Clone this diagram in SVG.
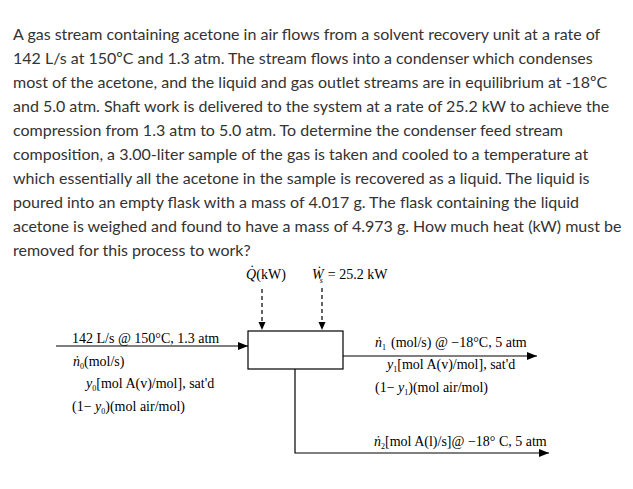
<svg xmlns="http://www.w3.org/2000/svg" width="633" height="489" viewBox="0 0 633 489">
<style>
.p{font-family:Lato,"Open Sans","Liberation Sans",sans-serif;font-size:16px;fill:#333}
.d{font-family:"Liberation Serif","Times New Roman",serif;font-size:14px;fill:#000}
.i{font-style:italic}
.s{font-size:8px}
.ln{stroke:#000;stroke-width:1.2;fill:none}
.ds{stroke:#000;stroke-width:1.2;fill:none;stroke-dasharray:4,3}
</style>
<defs>
<marker id="ah" markerWidth="10" markerHeight="8" refX="10" refY="4" orient="auto" markerUnits="userSpaceOnUse"><path d="M0,0 L10,4 L0,8 Z" fill="#000"/></marker>
<marker id="ahs" markerWidth="8" markerHeight="8" refX="8" refY="4" orient="auto" markerUnits="userSpaceOnUse"><path d="M0,0.5 L8,4 L0,7.5 Z" fill="#000"/></marker>
</defs>
<g id="problem">
<text class="p" x="13" y="40">A gas stream containing acetone in air flows from a solvent recovery unit at a rate of</text>
<text class="p" x="13" y="64">142 L/s at 150ºC and 1.3 atm. The stream flows into a condenser which condenses</text>
<text class="p" x="13" y="88">most of the acetone, and the liquid and gas outlet streams are in equilibrium at -18ºC</text>
<text class="p" x="13" y="112">and 5.0 atm. Shaft work is delivered to the system at a rate of 25.2 kW to achieve the</text>
<text class="p" x="13" y="136">compression from 1.3 atm to 5.0 atm. To determine the condenser feed stream</text>
<text class="p" x="13" y="160">composition, a 3.00-liter sample of the gas is taken and cooled to a temperature at</text>
<text class="p" x="13" y="184">which essentially all the acetone in the sample is recovered as a liquid. The liquid is</text>
<text class="p" x="13" y="208">poured into an empty flask with a mass of 4.017 g. The flask containing the liquid</text>
<text class="p" x="13" y="232">acetone is weighed and found to have a mass of 4.973 g. How much heat (kW) must be</text>
<text class="p" x="13" y="256">removed for this process to work?</text>
</g>
<g id="condenser">
<rect x="248" y="331" width="95" height="38" fill="#fff" stroke="#000" stroke-width="1.2"/>
</g>
<g id="connectors">
<line class="ln" x1="56" y1="346" x2="248" y2="346" marker-end="url(#ah)"/>
<line class="ds" x1="262" y1="289" x2="262" y2="330" marker-end="url(#ahs)"/>
<line class="ds" x1="322" y1="288" x2="322" y2="330" marker-end="url(#ahs)"/>
<line class="ln" x1="343" y1="356" x2="537" y2="356" marker-end="url(#ah)"/>
<polyline class="ln" points="295,369 295,453 549,453" marker-end="url(#ah)"/>
</g>
<g id="labels">
<text class="d" x="246" y="279"><tspan class="i">Q</tspan><tspan dx="-6.5" dy="-4">˙</tspan><tspan dx="2" dy="4">(kW)</tspan></text>
<text class="d" x="312" y="279"><tspan class="i">Ẇ</tspan><tspan class="s i" dx="-4" dy="4">s</tspan><tspan dx="5" dy="-4">= 25.2 kW</tspan></text>
<text class="d" x="72" y="343">142 L/s @ 150°C, 1.3 atm</text>
<text class="d" x="73" y="366"><tspan class="i">ṅ</tspan><tspan class="s" dy="3">0</tspan><tspan dy="-3">(mol/s)</tspan></text>
<text class="d" x="86" y="388"><tspan class="i">y</tspan><tspan class="s" dy="3">0</tspan><tspan dy="-3">[mol A(v)/mol], sat'd</tspan></text>
<text class="d" x="72" y="411">(1− <tspan class="i">y</tspan><tspan class="s" dy="3">0</tspan><tspan dy="-3">)(mol air/mol)</tspan></text>
<text class="d" x="375" y="347"><tspan class="i">ṅ</tspan><tspan class="s" dy="3">1</tspan><tspan dx="5" dy="-3">(mol/s) @  −18°C, 5 atm</tspan></text>
<text class="d" x="387" y="369"><tspan class="i">y</tspan><tspan class="s" dy="3">1</tspan><tspan dy="-3">[mol A(v)/mol], sat'd</tspan></text>
<text class="d" x="375" y="392">(1− <tspan class="i">y</tspan><tspan class="s" dy="3">1</tspan><tspan dy="-3">)(mol air/mol)</tspan></text>
<text class="d" x="374" y="446"><tspan class="i">ṅ</tspan><tspan class="s" dy="3">2</tspan><tspan dy="-3">[mol A(l)/s]@ −18° C, 5 atm</tspan></text>
</g>
</svg>
